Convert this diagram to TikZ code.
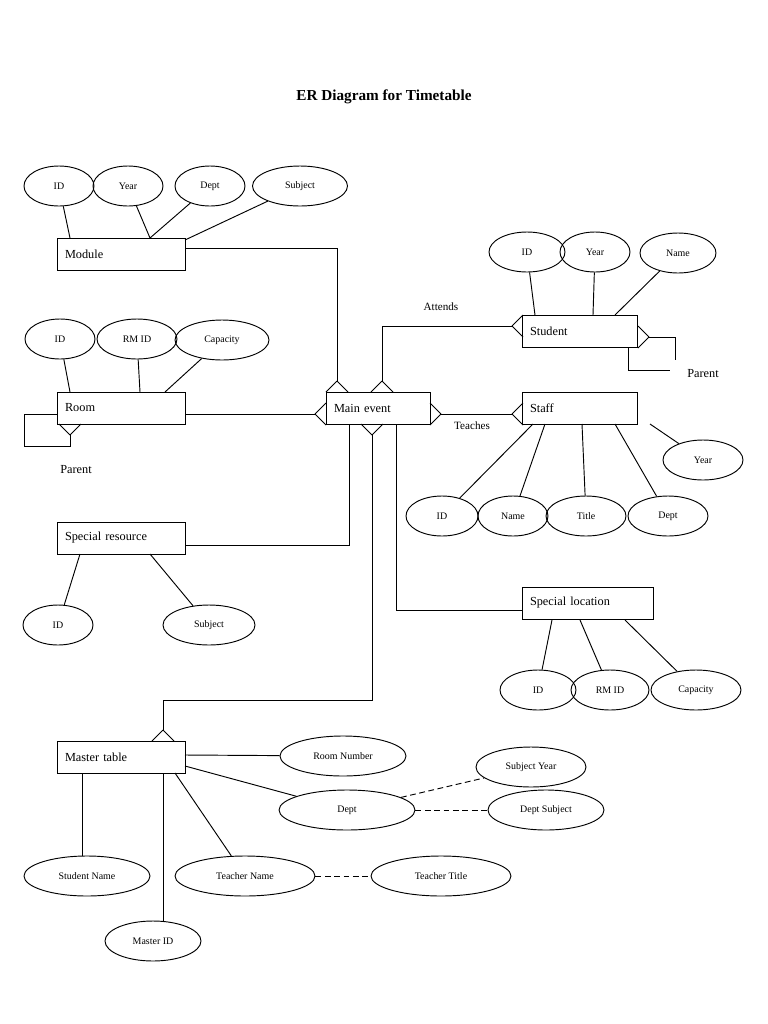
\documentclass[tikz,border=0pt]{standalone}
\usepackage{fontspec}
\setmainfont{Liberation Serif}
\usetikzlibrary{shapes.geometric}
\tikzset{
  ent/.style={draw, line width=0.8pt, minimum width=128*0.03cm, minimum height=32*0.03cm, text width=112*0.03cm, align=left, font=\fontsize{10.5}{12}\selectfont, inner sep=0pt},
  att/.style={draw, ellipse, line width=0.8pt, minimum width=70*0.03cm, minimum height=40*0.03cm, font=\fontsize{8.5}{10}\selectfont, inner sep=0pt},
  lbl/.style={font=\fontsize{9.5}{11}\selectfont},
  ln/.style={line width=0.8pt},
  dsh/.style={line width=0.8pt, dash pattern=on 5pt off 3pt}
}
% crow's feet: tip outside the box edge
\newcommand\crowL[2]{\draw[ln] ({#1-11},#2)--(#1,{#2-11}) ({#1-11},#2)--(#1,{#2+11});}
\newcommand\crowR[2]{\draw[ln] ({#1+11},#2)--(#1,{#2-11}) ({#1+11},#2)--(#1,{#2+11});}
\newcommand\crowU[2]{\draw[ln] (#1,{#2-11})--({#1-11},#2) (#1,{#2-11})--({#1+11},#2);}
\newcommand\crowD[2]{\draw[ln] (#1,{#2+11})--({#1-11},#2) (#1,{#2+11})--({#1+11},#2);}
\begin{document}
\begin{tikzpicture}[x=0.03cm, y=-0.03cm]
\useasboundingbox (0,0) rectangle (768,1024);
\node[font=\fontsize{13}{15}\selectfont\bfseries] (title) at (384,97) {ER Diagram for Timetable};

% entities
\node[ent] (mod) at (121,254) {Module};
\node[ent] (room) at (121,408) {Room};
\node[ent] (sres) at (121,538) {Special resource};
\node[ent, minimum width=104*0.03cm, text width=88*0.03cm] (main) at (378,408) {Main event};
\node[ent, minimum width=115*0.03cm, text width=100*0.03cm] (stu) at (580,331) {Student};
\node[ent, minimum width=115*0.03cm, text width=100*0.03cm] (staff) at (580,408) {Staff};
\node[ent, minimum width=131*0.03cm, text width=116*0.03cm] (sloc) at (588,603) {Special location};
\node[ent] (mt) at (121,757) {Master table};

% attributes
\node[att] (mid) at (59,186) {ID};
\node[att] (myear) at (128,186) {Year};
\node[att] (mdept) at (210,186) {Dept};
\node[att, minimum width=95*0.03cm] (msub) at (300,186) {Subject};
\node[att, minimum width=76*0.03cm] (sid) at (527,252) {ID};
\node[att] (syear) at (595,252) {Year};
\node[att, minimum width=76*0.03cm] (sname) at (678,253) {Name};
\node[att] (rid) at (60,339) {ID};
\node[att, minimum width=80*0.03cm] (rrm) at (137,339) {RM ID};
\node[att, minimum width=94*0.03cm] (rcap) at (222,340) {Capacity};
\node[att, minimum width=80*0.03cm] (tyear) at (703,460) {Year};
\node[att, minimum width=72*0.03cm] (tid) at (442,516) {ID};
\node[att] (tname) at (513,516) {Name};
\node[att, minimum width=80*0.03cm] (ttitle) at (586,516) {Title};
\node[att, minimum width=80*0.03cm] (tdept) at (668,516) {Dept};
\node[att] (srid) at (58,625) {ID};
\node[att, minimum width=92*0.03cm] (srsub) at (209,625) {Subject};
\node[att, minimum width=76*0.03cm] (lid) at (538,690) {ID};
\node[att, minimum width=78*0.03cm] (lrm) at (610,690) {RM ID};
\node[att, minimum width=90*0.03cm] (lcap) at (696,690) {Capacity};
\node[att, minimum width=126*0.03cm] (rnum) at (343,756) {Room Number};
\node[att, minimum width=110*0.03cm] (subyr) at (531,767) {Subject Year};
\node[att, minimum width=136*0.03cm] (mdp) at (347,810) {Dept};
\node[att, minimum width=116*0.03cm] (dsub) at (546,810) {Dept Subject};
\node[att, minimum width=126*0.03cm] (stname) at (87,876) {Student Name};
\node[att, minimum width=140*0.03cm] (tchn) at (245,876) {Teacher Name};
\node[att, minimum width=140*0.03cm] (tcht) at (441,876) {Teacher Title};
\node[att, minimum width=96*0.03cm] (mstid) at (153,941) {Master ID};

% labels
\node[lbl] (attends) at (441,307) {Attends};
\node[lbl] (teaches) at (472,426) {Teaches};
\node[lbl, font=\fontsize{10.5}{12}\selectfont] (par1) at (76,470) {Parent};
\node[lbl, font=\fontsize{10.5}{12}\selectfont] (par2) at (703,374) {Parent};

% module
\draw[ln] (mid) -- (70,238);
\draw[ln] (myear) -- (150,238);
\draw[ln] (mdept) -- (150,238);
\draw[ln] (msub) -- (185,240);
\draw[ln] (185,248) -| (337,381);
\crowU{337}{392}
% student
\draw[ln] (382,381) |- (512,326);
\crowU{382}{392}
\crowL{523}{326}
\draw[ln] (sid) -- (535,315);
\draw[ln] (syear) -- (593,315);
\draw[ln] (sname) -- (615,315);
\crowR{638}{337}
\draw[ln] (649,337) -| (675,360);
\draw[ln] (628,348) |- (670,370);
% room
\draw[ln] (rid) -- (70,392);
\draw[ln] (rrm) -- (140,392);
\draw[ln] (rcap) -- (165,392);
\draw[ln] (185,414) -- (315,414);
\crowL{326}{414}
\draw[ln] (57,414) -| (24,446) -| (70,435);
\crowD{70}{424}
% staff
\crowR{430}{414}
\draw[ln] (441,414) -- (512,414);
\crowL{523}{414}
\draw[ln] (533,424) -- (tid);
\draw[ln] (545,424) -- (tname);
\draw[ln] (582,424) -- (ttitle);
\draw[ln] (615,424) -- (tdept);
\draw[ln] (650,424) -- (tyear);
% special resource
\draw[ln] (349,424) |- (185,545);
\draw[ln] (80,554) -- (srid);
\draw[ln] (150,554) -- (srsub);
% special location
\draw[ln] (396,424) |- (523,610);
\draw[ln] (552,620) -- (lid);
\draw[ln] (580,620) -- (lrm);
\draw[ln] (625,620) -- (lcap);
% master table
\crowD{372}{424}
\draw[ln] (372,435) |- (163,700) -- (163,730);
\crowU{163}{741}
\draw[ln] (185,755) -- (rnum);
\draw[ln] (185,766) -- (mdp);
\draw[ln] (175,773) -- (tchn);
\draw[ln] (163,773) -- (163,921);
\draw[ln] (82,773) -- (82,856);
\draw[dsh] (mdp) -- (subyr);
\draw[dsh] (mdp) -- (dsub);
\draw[dsh] (tchn) -- (tcht);
\end{tikzpicture}
\end{document}
